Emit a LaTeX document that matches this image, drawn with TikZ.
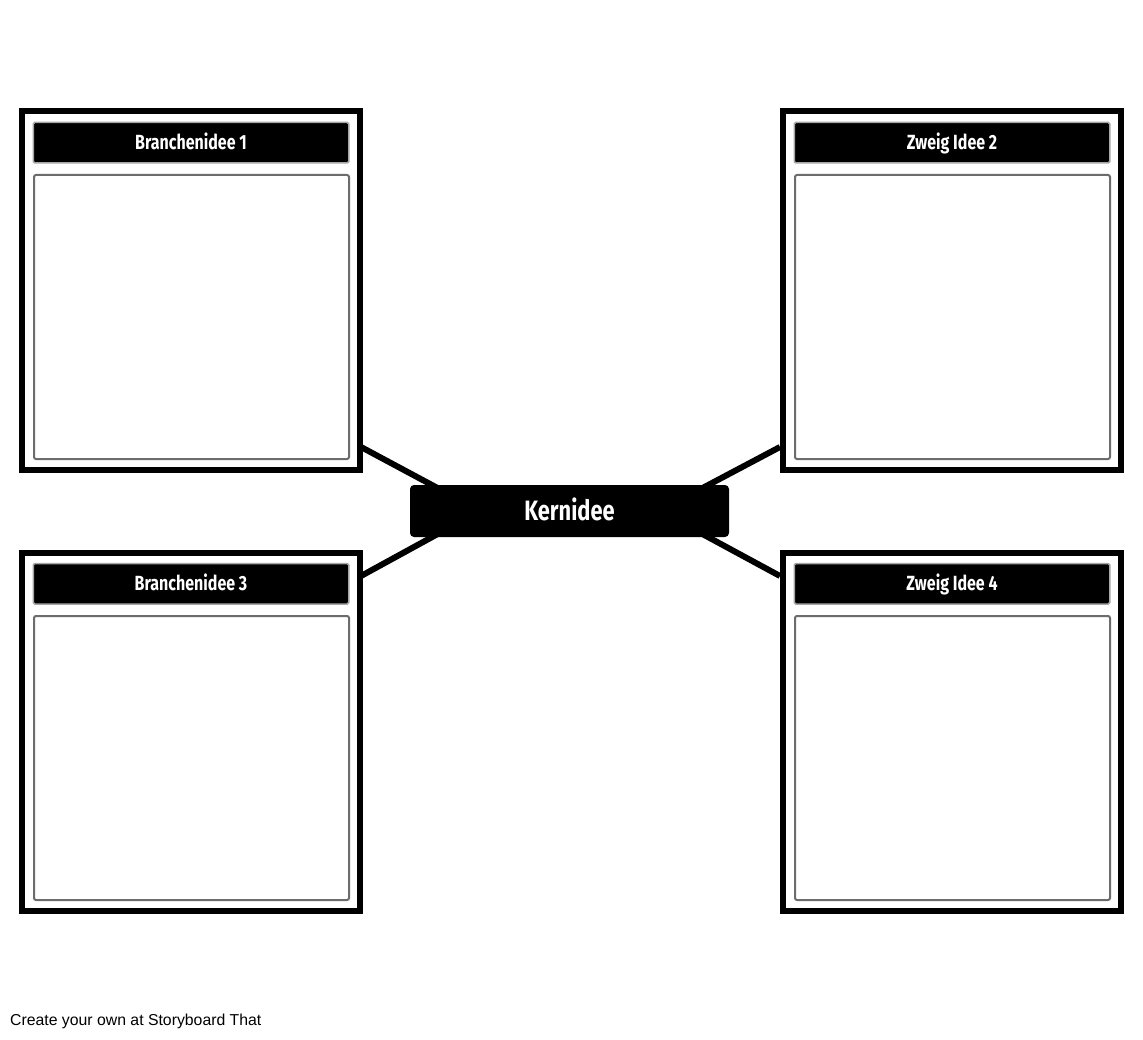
\documentclass[tikz,border=0pt]{standalone}
\usepackage{fontspec}
\setmainfont{Liberation Sans}
\newfontfamily\hfont[FakeStretch=0.78]{Fira Sans}
\begin{document}
\begin{tikzpicture}[x=1pt,y=-1pt,
  outerbox/.style={draw=black,line width=6pt,fill=white},
  headbox/.style={draw=gray!70,line width=1.5pt,fill=black,rounded corners=1.5pt,text=white,
    text height=14pt,text depth=0pt,
    font=\hfont\bfseries\fontsize{20.5}{20}\selectfont},
  bodybox/.style={draw=gray!85!black,line width=2pt,fill=white,rounded corners=2pt},
  link/.style={line width=6pt,black},
  kernbox/.style={fill=black,rounded corners=4pt,text=white,
    text height=19pt,text depth=0pt,
    font=\hfont\bfseries\fontsize{28}{28}\selectfont}]
\useasboundingbox (0,0) rectangle (1143,1040);
% coordinates for connector ends
\coordinate (l1) at (361,447);
\coordinate (l3) at (361,576);
\coordinate (r2) at (780,447);
\coordinate (r4) at (780,576);
\coordinate (k1) at (445,492);
\coordinate (k3) at (445,530);
\coordinate (k2) at (695,492);
\coordinate (k4) at (695,530);
\draw[link] (l1) -- (k1);
\draw[link] (l3) -- (k3);
\draw[link] (r2) -- (k2);
\draw[link] (r4) -- (k4);
% boxes
\foreach \n/\x/\y/\t in {b1/21.5/111.5/Branchenidee 1, b2/782.5/111.5/Zweig Idee 2, b3/21.5/552.5/Branchenidee 3, b4/782.5/552.5/Zweig Idee 4}{
  \draw[outerbox] (\x,\y) rectangle ++(338,358);
  \node[headbox,minimum width=315.5pt,minimum height=40.5pt,inner sep=0pt,anchor=north west] (\n h) at (\x+11,\y+10.25) {\t};
  \node[bodybox,minimum width=315pt,minimum height=284pt,inner sep=0pt,anchor=north west] (\n b) at (\x+11.5,\y+62.5) {};
}
\node[kernbox,minimum width=319pt,minimum height=52pt,inner sep=0pt] (kern) at (569.5,511) {Kernidee};
\node[anchor=west,inner sep=0pt,font=\fontsize{15.8}{16}\selectfont] (foot) at (10,1021) {Create your own at Storyboard That};
\end{tikzpicture}
\end{document}
